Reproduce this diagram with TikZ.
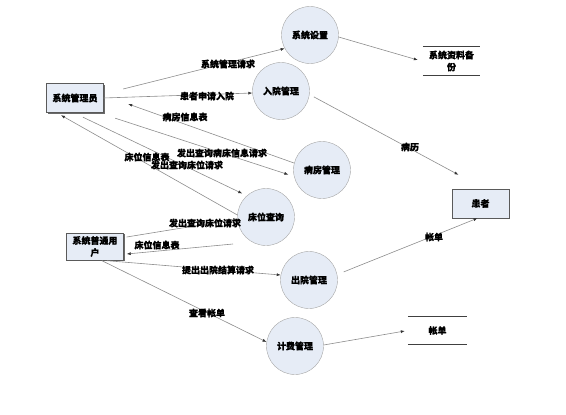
\documentclass[tikz,border=0pt]{standalone}
\usepackage{fontspec}
\newfontfamily\cjk[FakeBold=0.6]{Noto Sans CJK SC}
\usetikzlibrary{arrows.meta,calc,shadows}
\definecolor{nodefill}{HTML}{E6ECF6}
\definecolor{circborder}{HTML}{A6A6A6}
\definecolor{boxborder}{HTML}{5A5A5A}
\definecolor{flowcol}{HTML}{8C8C8C}
\definecolor{storecol}{HTML}{404040}
\begin{document}
\begin{tikzpicture}[x=1pt,y=-1pt,
  txt/.style={font=\cjk\bfseries\fontsize{9}{12}\selectfont},
  proc/.style={txt, circle, draw=circborder, fill=nodefill, minimum size=57pt, inner sep=0pt},
  entity/.style={txt, rectangle, draw=boxborder, fill=nodefill, minimum width=57pt, minimum height=29pt, inner sep=1pt, align=center,
     drop shadow={shadow xshift=1pt, shadow yshift=-1pt, fill=boxborder, opacity=0.9}},
  store/.style={txt, minimum width=57pt, minimum height=28pt, inner sep=0pt, align=center},
  storeline/.style={draw=storecol, line width=0.8pt},
  flow/.style={draw=flowcol, line width=0.6pt, -{Latex[length=4pt,width=3pt,color=black!80]}},
  lbl/.style={txt, inner sep=0pt}
]
\useasboundingbox (0,0) rectangle (566,415);

% entities
\node[entity] (admin) at (75,98) {系统管理员};
\node[entity, minimum height=27pt] (user) at (95,246.5) {系统普通用\\户};
\node[entity] (patient) at (480.5,203.5) {患者};

% processes
\node[proc] (sys) at (310,35) {系统设置};
\node[proc] (adm) at (281,91) {入院管理};
\node[proc] (ward) at (322,170) {病房管理};
\node[proc] (bed) at (266,217) {床位查询};
\node[proc] (dis) at (309,280) {出院管理};
\node[proc] (bill) at (295,346) {计费管理};

% data stores
\node[store] (store1) at (451.5,61) {系统资料备\\份};
\draw[storeline] (store1.north west) -- (store1.north east);
\draw[storeline] (store1.south west) -- (store1.south east);
\node[store, minimum width=59pt, minimum height=27pt] (store2) at (437.5,330.5) {帐单};
\draw[storeline] (store2.north west) -- (store2.north east);
\draw[storeline] (store2.south west) -- (store2.south east);

% free ends
\coordinate (a1) at ($(admin.east)+(19.5,-9)$);
\coordinate (a3) at ($(admin.east)+(24.5,6)$);
\coordinate (a4) at ($(admin.south east)+(11.5,5.5)$);
\coordinate (a5) at ($(admin.south)+(8,4.5)$);
\coordinate (a6) at ($(admin.south)+(-14,2.5)$);
\coordinate (u7) at ($(user.east)+(3,-9.5)$);
\coordinate (b8) at ($(bed.center)+(-33,27)$);
\coordinate (u8) at ($(user.east)+(3,7.5)$);
\coordinate (u9) at ($(user.south)+(12,0.5)$);
\coordinate (u10) at ($(user.south)+(7,0.5)$);
\coordinate (s11) at ($(store2.west)+(-3,0.5)$);
\coordinate (s12) at ($(store1.west)+(-5,-1)$);
\coordinate (p13) at ($(patient.north)+(-22,-14)$);
\coordinate (p14) at ($(patient.south)+(-3,0)$);

% flows
\draw[flow] (a1) -- (sys.208);
\draw[flow] (admin.east) -- (adm.184);
\draw[flow] (ward.166) -- (a3);
\draw[flow, shorten >=6pt] (a4) -- (ward.193);
\draw[flow, shorten >=5pt] (a5) -- (bed.132);
\draw[flow] (bed.176) -- (a6);
\draw[flow] (u7) -- (bed.184);
\draw[flow] (b8) -- (u8);
\draw[flow] (u9) -- (dis.170);
\draw[flow] (u10) -- (bill.172);
\draw[flow] (bill.2) -- (s11);
\draw[flow] (sys.356) -- (s12);
\draw[flow, shorten <=5pt] (adm.-7) -- (p13);
\draw[flow, shorten <=7pt] (dis.11) -- (p14);

% labels
\node[lbl] (l1) at (228,64) {系统管理请求};
\node[lbl] (l2) at (207,96) {患者申请入院};
\node[lbl] (l3) at (185,117) {病房信息表};
\node[lbl] (l4) at (222,153) {发出查询病床信息请求};
\node[lbl] (l5) at (147,157) {床位信息表};
\node[lbl] (l6) at (187,165) {发出查询床位请求};
\node[lbl] (l7) at (205,223) {发出查询床位请求};
\node[lbl] (l8) at (157,245) {床位信息表};
\node[lbl] (l9) at (218,270) {提出出院结算请求};
\node[lbl] (l10) at (207,313) {查看帐单};
\node[lbl] (l11) at (410,147) {病历};
\node[lbl] (l12) at (434,237) {帐单};
\end{tikzpicture}
\end{document}
